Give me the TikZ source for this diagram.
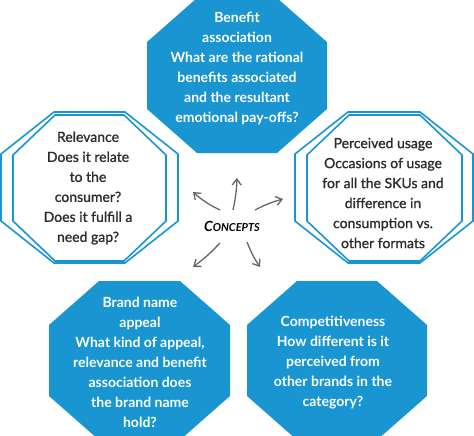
\documentclass[tikz,border=0pt]{standalone}
\usepackage{fontspec}
\setmainfont{Lato}
\usetikzlibrary{arrows.meta}
\definecolor{octblue}{RGB}{25,150,210}
\definecolor{octtext}{RGB}{45,45,45}
% octagon from corner box: [style]{x0}{y0}{x1}{y1}{cut x}{cut y}
\newcommand{\octo}[7][]{%
  \draw[#1] ({#2+#6},#3) -- ({#4-#6},#3) -- (#4,{#3+#7}) -- (#4,{#5-#7})
    -- ({#4-#6},#5) -- ({#2+#6},#5) -- (#2,{#5-#7}) -- (#2,{#3+#7}) -- cycle;}
\tikzset{
  filledocto/.style={fill=octblue, draw=none},
  lineocto/.style={draw=octblue, line width=1.6pt, line join=miter},
  whitetext/.style={text=white, font=\fontsize{14}{20}\selectfont\bfseries, align=center},
  darktext/.style={text=octtext, font=\fontsize{14}{20}\selectfont\addfontfeature{FakeBold=1.2}, align=center},
  sketch/.style={draw=gray!80!black, line width=1.3pt, -{Straight Barb[length=6pt,width=9pt]}}
}
\begin{document}
\begin{tikzpicture}[x=1pt,y=-1pt]
\useasboundingbox (0,0) rectangle (474,436);
% filled octagons
\octo[filledocto]{147}{-2}{327}{153}{50}{44}
\octo[filledocto]{49}{281}{230}{440}{50}{44}
\octo[filledocto]{247}{281}{427}{440}{50}{44}
% double outlined octagons
\octo[lineocto]{1}{112}{178}{263}{53}{42}
\octo[lineocto]{13}{115}{166}{261}{42}{40}
\octo[lineocto]{295}{112}{473}{263}{53}{42}
\octo[lineocto]{307}{115}{462}{261}{42}{40}
% texts
\node [whitetext] (benefit) at (237,68) {Benefit\\association\\What are the rational\\benefits associated\\and the resultant\\emotional pay-offs?};
\node [darktext] (relevance) at (88,188) {Relevance\\Does it relate\\to the\\consumer?\\Does it fulfill a\\need gap?};
\node [darktext] (usage) at (383,193) {Perceived usage\\Occasions of usage\\for all the SKUs and\\difference in\\consumption vs.\\other formats};
\node [whitetext] (brand) at (140,362) {Brand name\\appeal\\What kind of appeal,\\relevance and benefit\\association does\\the brand name\\hold?};
\node [whitetext] (compete) at (333,363) {Competitiveness\\How different is it\\perceived from\\other brands in the\\category?};
\node [font=\fontsize{14}{16}\selectfont\bfseries\itshape] (concepts) at (232,226) {C{\fontsize{11}{13}\selectfont ONCEPTS}};
% sketchy arrows
\coordinate (a1) at (220,210); \coordinate (t1) at (193,192);
\coordinate (a2) at (233,210); \coordinate (t2) at (237,178);
\coordinate (a3) at (255,210); \coordinate (t3) at (283,199);
\coordinate (a4) at (220,243); \coordinate (t4) at (193,267);
\coordinate (a5) at (247,242); \coordinate (t5) at (260,267);
\draw [sketch] (a1) to[bend left=8] (t1);
\draw [sketch] (a2) to[bend right=5] (t2);
\draw [sketch] (a3) to[bend left=6] (t3);
\draw [sketch] (a4) to[bend left=5] (t4);
\draw [sketch] (a5) to[bend right=6] (t5);
\end{tikzpicture}
\end{document}
